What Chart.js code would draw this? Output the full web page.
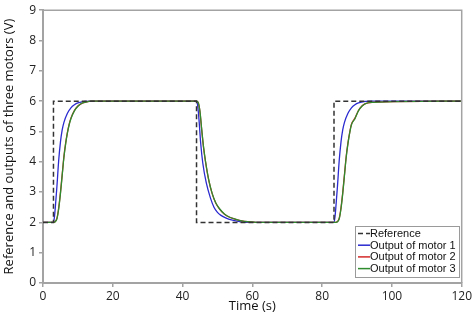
<!DOCTYPE html>
<html>
<head>
<meta charset="utf-8">
<script src="https://cdn.jsdelivr.net/npm/chart.js@4.4.1/dist/chart.umd.min.js"></script>
<style>
  html, body { margin: 0; padding: 0; background: #ffffff; }
  #wrap { width: 474px; height: 323px; }
</style>
</head>
<body>
<div id="wrap"><canvas id="motorChart" width="474" height="323"></canvas></div>
<script>
// Reference step signal
const timeRef = [0, 3, 3, 44, 44, 83.4, 83.4, 120];
const reference = [2, 2, 6, 6, 2, 2, 6, 6];

// Motor 1 (blue) - fastest response
const timeMotor1 = [0, 3, 3.3, 3.6, 4, 4.5, 5, 5.5, 6, 7, 8, 9, 10, 12, 14,
    44, 44.3, 44.7, 45.2, 45.8, 46.8, 48, 49, 50, 51, 52.5, 54, 56, 58,
    83.4, 83.7, 84, 84.4, 84.9, 85.4, 85.9, 86.4, 87.4, 88.4, 89.4, 90.4, 92.4, 94.4, 120];
const motor1 = [2, 2, 2.2, 2.6, 3.2, 4.05, 4.65, 5.05, 5.3, 5.6, 5.78, 5.88, 5.94, 5.99, 6,
    6, 5.88, 5.4, 4.6, 3.95, 3.3, 2.8, 2.5, 2.33, 2.23, 2.14, 2.08, 2.03, 2,
    2, 2.2, 2.6, 3.2, 4.05, 4.65, 5.05, 5.3, 5.6, 5.78, 5.88, 5.94, 5.99, 6, 6];

// Motor 2 (red) - almost on top of motor 3
const timeMotor2 = [0, 3, 3.5, 4, 4.5, 5, 5.5, 6, 6.5, 7, 7.5, 8, 9, 10, 11, 12, 14,
    44, 44.5, 45, 45.5, 46, 46.6, 47.5, 48.5, 49.5, 50.6, 52, 53.5, 55.3, 57, 59, 61,
    83.4, 83.9, 84.4, 84.9, 85.4, 85.9, 86.4, 86.9, 87.4, 87.9, 88.4, 89.4, 90.4, 91.4, 92.4, 94.4, 120];
const motor2 = [2, 2, 2.03, 2.14, 2.48, 2.98, 3.58, 4.18, 4.62, 4.97, 5.24, 5.44, 5.69, 5.84, 5.92, 5.96, 6,
    6, 5.95, 5.63, 5.03, 4.48, 3.98, 3.39, 2.94, 2.64, 2.44, 2.27, 2.17, 2.1, 2.05, 2.02, 2,
    2, 2, 2.03, 2.14, 2.48, 2.98, 3.58, 4.18, 4.62, 4.97, 5.24, 5.44, 5.69, 5.84, 5.92, 5.96, 6, 6];

// Motor 3 (green)
const timeMotor3 = [0, 3, 3.5, 4, 4.5, 5, 5.5, 6, 6.5, 7, 7.5, 8, 9, 10, 11, 12, 14,
    44, 44.5, 45, 45.5, 46, 46.6, 47.5, 48.5, 49.5, 50.6, 52, 53.5, 55.3, 57, 59, 61,
    83.4, 83.9, 84.4, 84.9, 85.4, 85.9, 86.4, 86.9, 87.4, 87.9, 88.4, 89.4, 90.4, 91.4, 92.4, 94.4, 120];
const motor3 = [2, 2, 2.02, 2.12, 2.45, 2.95, 3.55, 4.15, 4.6, 4.95, 5.22, 5.42, 5.68, 5.83, 5.92, 5.96, 6,
    6, 5.95, 5.65, 5.05, 4.5, 4.0, 3.4, 2.95, 2.65, 2.45, 2.28, 2.17, 2.1, 2.05, 2.02, 2,
    2, 2, 2.02, 2.12, 2.45, 2.95, 3.55, 4.15, 4.6, 4.95, 5.22, 5.42, 5.68, 5.83, 5.92, 5.96, 6, 6];

const legendLabels = ["Reference", "Output of motor 1", "Output of motor 2", "Output of motor 3"];

const axisGrey = "#a3a3a3";

function toPoints(xs, ys) {
    return xs.map((x, i) => ({ x: x, y: ys[i] }));
}

// frame on top/right + boxed legend in the lower right corner
const framePlugin = {
    id: "frameAndLegend",
    afterDraw(chart) {
        const ctx = chart.ctx;
        const a = chart.chartArea;
        ctx.save();
        ctx.strokeStyle = axisGrey;
        ctx.lineWidth = 1.5;
        ctx.beginPath();
        ctx.moveTo(a.left, a.top);
        ctx.lineTo(a.right, a.top);
        ctx.lineTo(a.right, a.bottom);
        ctx.stroke();

        // legend box
        const bx = 355, by = 226, bw = 104, bh = 51;
        ctx.fillStyle = "#ffffff";
        ctx.fillRect(bx, by, bw, bh);
        ctx.strokeStyle = "#9a9a9a";
        ctx.lineWidth = 1;
        ctx.strokeRect(bx + 0.5, by + 0.5, bw, bh);

        ctx.font = "11px 'Liberation Sans', Arial, sans-serif";
        ctx.textBaseline = "middle";
        ctx.textAlign = "left";
        legendLabels.forEach((label, i) => {
            const ds = chart.data.datasets.find(d => d.label === label);
            const y = by + 7.5 + i * 11.7;
            ctx.strokeStyle = ds.borderColor;
            ctx.lineWidth = 1.5;
            ctx.setLineDash(ds.borderDash || []);
            ctx.beginPath();
            ctx.moveTo(bx + 3, y);
            ctx.lineTo(bx + 15, y);
            ctx.stroke();
            ctx.setLineDash([]);
            ctx.fillStyle = "#111111";
            ctx.fillText(label, bx + 15, y + 0.5);
        });
        ctx.restore();
    }
};

const ctx = document.getElementById("motorChart").getContext("2d");

new Chart(ctx, {
    type: "line",
    data: {
        datasets: [
            {
                label: legendLabels[0],
                data: toPoints(timeRef, reference),
                borderColor: "#333333",
                borderWidth: 1.5,
                borderDash: [5, 3],
                tension: 0,
                order: 0,
            },
            {
                label: legendLabels[3],
                data: toPoints(timeMotor3, motor3),
                borderColor: "#2e8b2e",
                borderWidth: 1.3,
                cubicInterpolationMode: "monotone",
                order: 1,
            },
            {
                label: legendLabels[2],
                data: toPoints(timeMotor2, motor2),
                borderColor: "#d42a2a",
                borderWidth: 1.3,
                cubicInterpolationMode: "monotone",
                order: 2,
            },
            {
                label: legendLabels[1],
                data: toPoints(timeMotor1, motor1),
                borderColor: "#2a2ad0",
                borderWidth: 1.3,
                cubicInterpolationMode: "monotone",
                order: 3,
            },
        ],
    },
    options: {
        responsive: false,
        animation: false,
        events: [],
        elements: { point: { radius: 0 } },
        layout: { padding: { top: 8, right: 11, left: 0, bottom: 0 } },
        plugins: {
            legend: { display: false },
            tooltip: { enabled: false },
        },
        scales: {
            x: {
                type: "linear",
                min: 0,
                max: 120,
                afterFit(scale) { scale.height = 40; },
                ticks: {
                    stepSize: 20,
                    color: "#222222",
                    padding: 2,
                    maxRotation: 0,
                    font: { family: "'Open Sans', sans-serif", size: 12 },
                },
                grid: { drawOnChartArea: false, color: axisGrey, tickLength: 4, lineWidth: 1.5 },
                border: { color: axisGrey, width: 2 },
                title: {
                    display: true,
                    text: "Time (s)",
                    color: "#111111",
                    padding: { top: 0, bottom: 9 },
                    font: { family: "'Open Sans', sans-serif", size: 13 },
                },
            },
            y: {
                min: 0,
                max: 9,
                afterFit(scale) { scale.width = 43; },
                ticks: {
                    stepSize: 1,
                    color: "#222222",
                    padding: 3,
                    font: { family: "'Open Sans', sans-serif", size: 12 },
                },
                grid: { drawOnChartArea: false, color: axisGrey, tickLength: 4, lineWidth: 1.5 },
                border: { color: axisGrey, width: 2 },
                title: {
                    display: true,
                    text: "Reference and outputs of three motors (V)",
                    color: "#111111",
                    padding: { top: 1, bottom: 0 },
                    font: { family: "'Open Sans', sans-serif", size: 13 },
                },
            },
        },
    },
    plugins: [framePlugin],
});
</script>
</body>
</html>
